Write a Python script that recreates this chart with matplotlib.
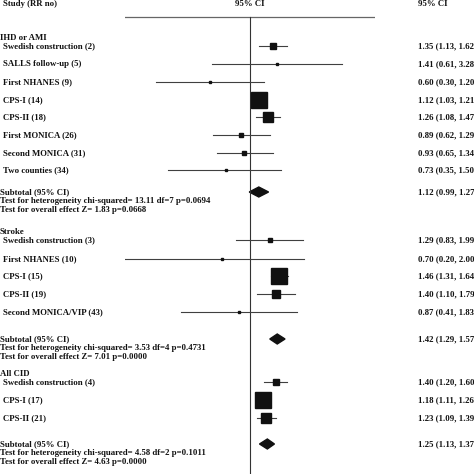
import matplotlib
matplotlib.use("Agg")
import matplotlib.pyplot as plt
from matplotlib.patches import Polygon
import matplotlib.transforms as mt

labels = ["Swedish construction (2)", "SALLS follow-up (5)", "First NHANES (9)", "CPS-I (14)",
          "CPS-II (18)", "First MONICA (26)", "Second MONICA (31)", "Two counties (34)",
          "Swedish construction (3)", "First NHANES (10)", "CPS-I (15)", "CPS-II (19)",
          "Second MONICA/VIP (43)",
          "Swedish construction (4)", "CPS-I (17)", "CPS-II (21)"]
rr = [1.35, 1.41, 0.60, 1.12, 1.26, 0.89, 0.93, 0.73, 1.29, 0.70, 1.46, 1.40, 0.87, 1.40, 1.18, 1.23]
lo = [1.13, 0.61, 0.30, 1.03, 1.08, 0.62, 0.65, 0.35, 0.83, 0.20, 1.31, 1.10, 0.41, 1.20, 1.11, 1.09]
hi = [1.62, 3.28, 1.20, 1.21, 1.47, 1.29, 1.34, 1.50, 1.99, 2.00, 1.64, 1.79, 1.83, 1.60, 1.26, 1.39]
sizes = [5, 1.5, 1.5, 12, 7, 3.5, 3.5, 1.5, 3, 1.5, 12, 5.5, 1.5, 5, 12, 7]
row_y = [46, 64, 82, 100, 117, 135, 153, 170, 240, 259, 276, 294, 312, 382, 400, 418]

groups = ["IHD or AMI", "Stroke", "All CID"]
group_y = [38, 232, 374]
sub_rr = [1.12, 1.42, 1.25]
sub_lo = [0.99, 1.29, 1.13]
sub_hi = [1.27, 1.57, 1.37]
sub_y = [192, 339, 444]
het = ["13.11 df=7 p=0.0694", "3.53 df=4 p=0.4731", "4.58 df=2 p=0.1011"]
eff = ["1.83 p=0.0668", "7.01 p=0.0000", "4.63 p=0.0000"]

W = 474
fig = plt.figure(figsize=(4.74, 4.74), dpi=100)
ax = fig.add_axes([125 / W, 0, 250 / W, 1])
ax.set_xscale("log")
ax.set_xlim(0.2, 5)
ax.set_ylim(474, 0)
ax.axis("off")

ax.plot([0.2, 5], [17, 17], color="0.4", lw=0.9)
ax.plot([1, 1], [17, 474], color="0.2", lw=0.8)

fam = "Liberation Serif"
kw = dict(family=fam, fontsize=6.3, fontweight="bold", va="center", color="#111")
tr = mt.blended_transform_factory(fig.transFigure, ax.transData)

fig.text(3 / W, 1 - 4 / W, "Study (RR no)", **kw)
fig.text(250 / W, 1 - 4 / W, "95% CI", ha="center", **{k: v for k, v in kw.items()})
fig.text(418 / W, 1 - 4 / W, "95% CI", **kw)

for l, r, a, b, s, y in zip(labels, rr, lo, hi, sizes, row_y):
    ax.plot([a, b], [y, y], color="0.25", lw=0.8)
    ax.plot([r], [y], marker="s", ms=s, color="#111", mec="#111")
    ax.text(3 / W, y, l, transform=tr, **kw)
    ax.text(418 / W, y, f"{r:.2f} ({a:.2f}, {b:.2f})", transform=tr, **kw)

for g, gy in zip(groups, group_y):
    ax.text(0, gy, g, transform=tr, **kw)

for r, a, b, y, h, e in zip(sub_rr, sub_lo, sub_hi, sub_y, het, eff):
    ax.add_patch(Polygon([[a, y], [r, y - 5], [b, y], [r, y + 5]], closed=True, color="#111"))
    ax.text(0, y, "Subtotal (95% CI)", transform=tr, **kw)
    ax.text(418 / W, y, f"{r:.2f} ({a:.2f}, {b:.2f})", transform=tr, **kw)
    ax.text(0, y + 9, "Test for heterogeneity chi-squared= " + h, transform=tr, **kw)
    ax.text(0, y + 18, "Test for overall effect Z= " + e, transform=tr, **kw)

fig.savefig("out.png", dpi=100, facecolor="white")
